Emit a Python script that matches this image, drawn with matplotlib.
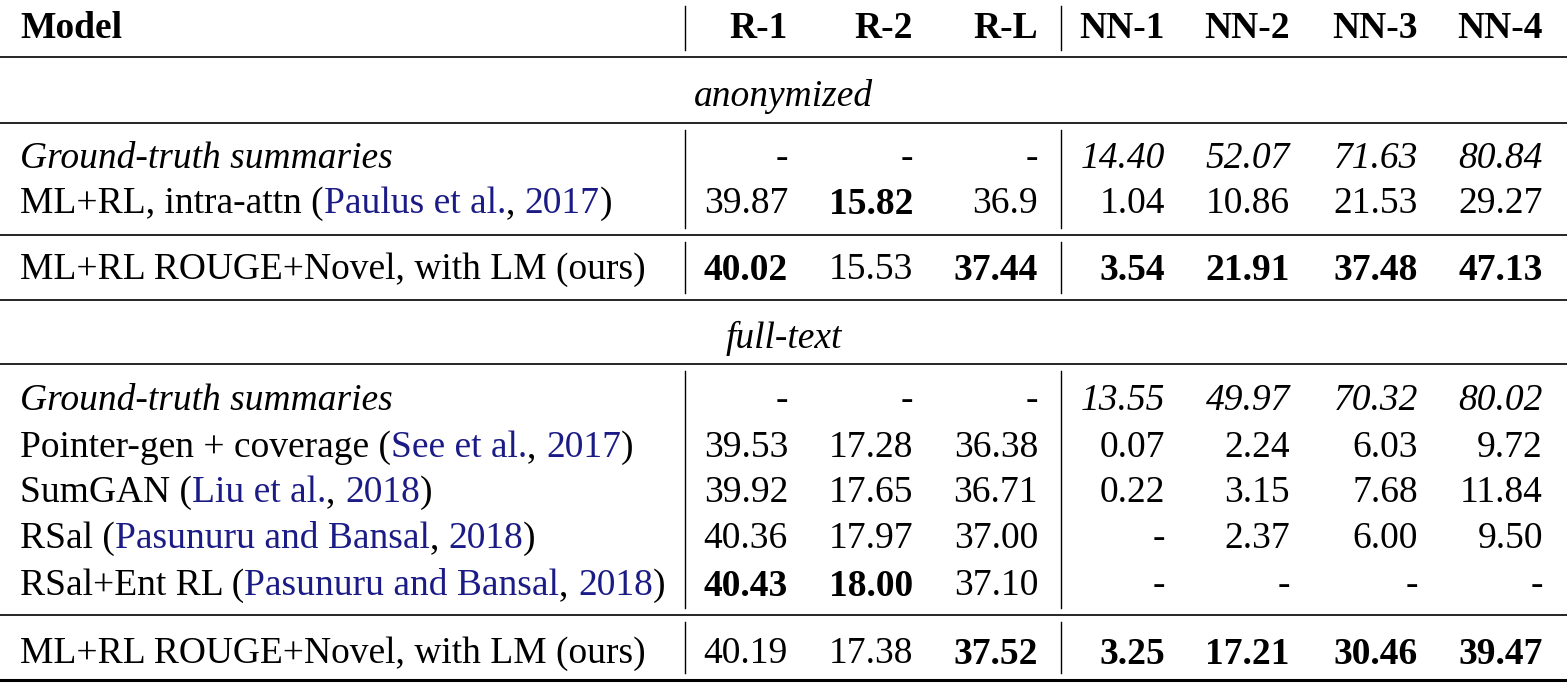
import matplotlib
matplotlib.use("Agg")
import matplotlib.pyplot as plt

W, H = 1567, 683
FS = 27
FONT = "Liberation Serif"
BLUE = "#1b1b86"

headers = ["R-1", "R-2", "R-L", "NN-1", "NN-2", "NN-3", "NN-4"]
col_right = [788, 913, 1038, 1165, 1290, 1418, 1543]

# model label parts: (text, is_link)
anon_models = [
    [("Ground-truth summaries", False)],
    [("ML+RL, intra-attn (", False), ("Paulus et al.", True), (", ", False), ("2017", True), (")", False)],
]
anon_vals = [
    ["-", "-", "-", "14.40", "52.07", "71.63", "80.84"],
    ["39.87", "15.82", "36.9", "1.04", "10.86", "21.53", "29.27"],
]
anon_ours = ["40.02", "15.53", "37.44", "3.54", "21.91", "37.48", "47.13"]
anon_ours_bold = [True, False, True, True, True, True, True]

full_models = [
    [("Ground-truth summaries", False)],
    [("Pointer-gen + coverage (", False), ("See et al.", True), (", ", False), ("2017", True), (")", False)],
    [("SumGAN (", False), ("Liu et al.", True), (", ", False), ("2018", True), (")", False)],
    [("RSal (", False), ("Pasunuru and Bansal", True), (", ", False), ("2018", True), (")", False)],
    [("RSal+Ent RL (", False), ("Pasunuru and Bansal", True), (", ", False), ("2018", True), (")", False)],
]
full_vals = [
    ["-", "-", "-", "13.55", "49.97", "70.32", "80.02"],
    ["39.53", "17.28", "36.38", "0.07", "2.24", "6.03", "9.72"],
    ["39.92", "17.65", "36.71", "0.22", "3.15", "7.68", "11.84"],
    ["40.36", "17.97", "37.00", "-", "2.37", "6.00", "9.50"],
    ["40.43", "18.00", "37.10", "-", "-", "-", "-"],
]
full_bold = {(4, 0), (4, 1)}
full_ours = ["40.19", "17.38", "37.52", "3.25", "17.21", "30.46", "39.47"]
full_ours_bold = [False, False, True, True, True, True, True]
ours_label = [("ML+RL ROUGE+Novel, with LM (ours)", False)]

fig = plt.figure(figsize=(W / 100, H / 100), dpi=100)
ax = fig.add_axes([0, 0, 1, 1])
ax.set_xlim(0, W)
ax.set_ylim(H, 0)
ax.axis("off")
fig.canvas.draw()
rend = fig.canvas.get_renderer()


def txt(x, y, s, ha="left", bold=False, italic=False, color="black"):
    return ax.text(x, y, s, ha=ha, va="center_baseline", fontsize=FS, family=FONT,
                   weight="bold" if bold else "normal",
                   style="italic" if italic else "normal", color=color)


def label(y, parts, italic=False):
    x = 20
    inv = ax.transData.inverted()
    for s, link in parts:
        t = txt(x, y, s, italic=italic, color=BLUE if link else "black")
        bb = t.get_window_extent(renderer=rend)
        x = inv.transform((bb.x1, 0))[0]


def row(y, vals, bold=None, italic=False):
    for j, v in enumerate(vals):
        b = bold[j] if bold else False
        txt(col_right[j], y, v, ha="right", bold=b, italic=italic and v != "-")


def hline(y, lw=1.2):
    ax.plot([0, W], [y, y], color="black", lw=lw)


def vlines(y0, y1):
    for x in (685, 1061):
        ax.plot([x, x], [y0, y1], color="black", lw=1.0)


# header
txt(20, 25, "Model", bold=True)
for j, h in enumerate(headers):
    txt(col_right[j], 25, h, ha="right", bold=True)
vlines(6, 50)
hline(57)

txt(W / 2, 92, "anonymized", ha="center", italic=True)
hline(123)

ys = [155, 200]
for i, y in enumerate(ys):
    label(y, anon_models[i], italic=(i == 0))
    row(y, anon_vals[i], bold=[j == 1 and i == 1 for j in range(7)], italic=(i == 0))
vlines(130, 228)
hline(235)

label(266, ours_label)
row(266, anon_ours, bold=anon_ours_bold)
vlines(242, 293)
hline(300)

txt(W / 2, 334, "full-text", ha="center", italic=True)
hline(364)

ys = [397, 444, 489, 535, 582]
for i, y in enumerate(ys):
    label(y, full_models[i], italic=(i == 0))
    row(y, full_vals[i], bold=[(i, j) in full_bold for j in range(7)], italic=(i == 0))
vlines(371, 608)
hline(615)

label(650, ours_label)
row(650, full_ours, bold=full_ours_bold)
vlines(622, 673)
hline(680, lw=2.2)

fig.savefig("out.png", dpi=100)
